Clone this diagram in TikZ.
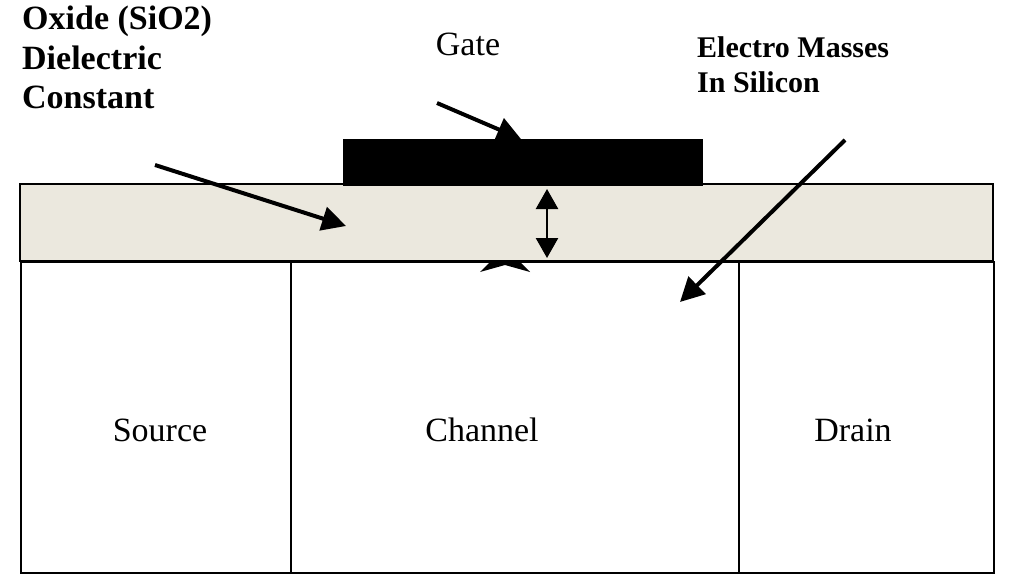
\documentclass[tikz,border=0pt]{standalone}
\usepackage{fontspec}
\setmainfont{Liberation Serif}
\usetikzlibrary{arrows.meta}
\begin{document}
\begin{tikzpicture}[x=1pt,y=-1pt,
  lbl/.style={font=\fontsize{34}{40}\selectfont\bfseries, anchor=west, inner sep=0},
  lbls/.style={font=\fontsize{30}{36}\selectfont\bfseries, anchor=west, inner sep=0},
  txt/.style={font=\fontsize{34}{40}\selectfont, inner sep=0},
  arr/.style={line width=4pt, -{Triangle[length=24pt,width=24pt]}},
  box/.style={draw, line width=2pt}]
\useasboundingbox (0,0) rectangle (1024,578);
\fill[fill={rgb,255:red,235;green,232;blue,222}] (20,184) rectangle (993,261);
\draw[line width=2pt] (20,184) rectangle (993,261);
\node[box, fill=black, minimum width=358pt, minimum height=45pt, anchor=north west, inner sep=0] (gate) at (343,139) {};
\node[box, minimum width=270pt, minimum height=311pt, anchor=north west, inner sep=0] (src) at (20,261) {};
\node[box, minimum width=448pt, minimum height=311pt, anchor=north west, inner sep=0] (ch) at (290,261) {};
\node[box, minimum width=255pt, minimum height=311pt, anchor=north west, inner sep=0] (dr) at (738,261) {};
\node[txt] at (160,430) {Source};
\node[txt] at (482,430) {Channel};
\node[txt] at (853,430) {Drain};
\node[lbl] (ox) at (22,21) {Oxide (SiO2)};
\node[lbl] at (22,58) {Dielectric};
\node[lbl] at (22,97) {Constant};
\node[txt] (gl) at (468,44) {Gate};
\node[lbls] at (697,47) {Electro Masses};
\node[lbls] at (697,82) {In Silicon};
\coordinate (g0) at (437,103); \coordinate (g1) at (521,139);
\coordinate (o0) at (155,165); \coordinate (o1) at (346,226);
\coordinate (e0) at (845,140); \coordinate (e1) at (680,302);
\draw[arr] (g0) -- (g1);
\draw[arr] (o0) -- (o1);
\draw[arr] (e0) -- (e1);
\coordinate (d0) at (547,189); \coordinate (d1) at (547,258);
\draw[line width=2.5pt, {Triangle[length=20pt,width=22pt]}-{Triangle[length=20pt,width=22pt]}] (d0) -- (d1);
\fill (480,272) -- (490,262) -- (520,262) -- (530,272) -- (505,265) -- cycle;
\end{tikzpicture}
\end{document}
